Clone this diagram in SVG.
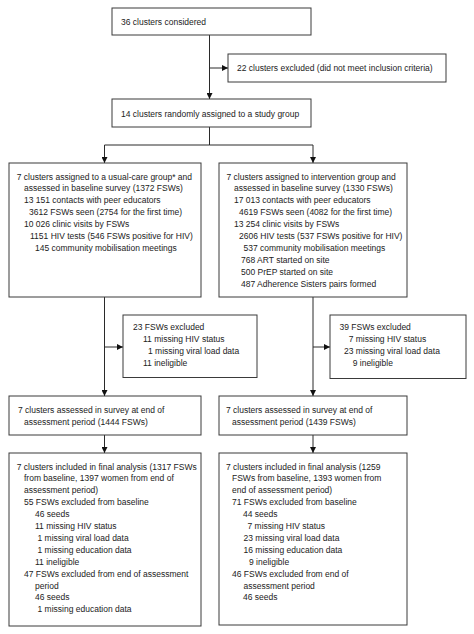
<svg xmlns="http://www.w3.org/2000/svg" width="474" height="634" viewBox="0 0 474 634">
<style>
.box{fill:#fff;stroke:#3a3a3a;stroke-width:1}
.t{font-family:"Liberation Sans",Arial,sans-serif;font-size:8.5px;fill:#222}
.c{fill:none;stroke:#2a2a2a;stroke-width:1}
</style>
<defs>
<marker id="ah" viewBox="0 0 10 10" refX="10" refY="5" markerWidth="7" markerHeight="6" orient="auto" markerUnits="userSpaceOnUse">
<path d="M0,0 L10,5 L0,10 z" fill="#111"/>
</marker>
</defs>
<rect width="474" height="634" fill="#fff"/>
<g id="connectors">
<line class="c" x1="209.5" y1="35" x2="209.5" y2="99" marker-end="url(#ah)"/>
<line class="c" x1="209.5" y1="68" x2="228" y2="68" marker-end="url(#ah)"/>
<polyline class="c" points="209.5,127 209.5,145 104.5,145 104.5,163" marker-end="url(#ah)"/>
<polyline class="c" points="209.5,145 313,145 313,163" marker-end="url(#ah)"/>
<line class="c" x1="104.5" y1="297" x2="104.5" y2="396" marker-end="url(#ah)"/>
<line class="c" x1="104.5" y1="347" x2="123" y2="347" marker-end="url(#ah)"/>
<line class="c" x1="313" y1="297" x2="313" y2="396" marker-end="url(#ah)"/>
<line class="c" x1="313" y1="347" x2="330" y2="347" marker-end="url(#ah)"/>
<line class="c" x1="104.5" y1="435" x2="104.5" y2="453" marker-end="url(#ah)"/>
<line class="c" x1="313" y1="435" x2="313" y2="453" marker-end="url(#ah)"/>
</g>
<g id="considered">
<rect class="box" x="112" y="8" width="199" height="27"/>
<text class="t" x="121" y="24.5">36 clusters considered</text>
</g>
<g id="excluded-clusters">
<rect class="box" x="228" y="54" width="218" height="28"/>
<text class="t" x="237" y="70.5">22 clusters excluded (did not meet inclusion criteria)</text>
</g>
<g id="randomised">
<rect class="box" x="112" y="99" width="199" height="28"/>
<text class="t" x="121" y="116.5">14 clusters randomly assigned to a study group</text>
</g>
<g id="usual-care-baseline">
<rect class="box" x="9" y="163" width="192" height="134"/>
<text class="t" x="16.7" y="179.5">7 clusters assigned to a usual-care group* and</text>
<text class="t" x="24" y="191.4">assessed in baseline survey (1372 FSWs)</text>
<text class="t" x="24" y="203.3">13 151 contacts with peer educators</text>
<text class="t" x="29" y="215.2">3612 FSWs seen (2754 for the first time)</text>
<text class="t" x="24" y="227.1">10 026 clinic visits by FSWs</text>
<text class="t" x="30" y="239">1151 HIV tests (546 FSWs positive for HIV)</text>
<text class="t" x="35" y="250.9">145 community mobilisation meetings</text>
</g>
<g id="intervention-baseline">
<rect class="box" x="219" y="163" width="188" height="134"/>
<text class="t" x="226.5" y="179.5">7 clusters assigned to intervention group and</text>
<text class="t" x="234" y="191.4">assessed in baseline survey (1330 FSWs)</text>
<text class="t" x="234" y="203.3">17 013 contacts with peer educators</text>
<text class="t" x="239" y="215.2">4619 FSWs seen (4082 for the first time)</text>
<text class="t" x="234" y="227.1">13 254 clinic visits by FSWs</text>
<text class="t" x="239" y="239">2606 HIV tests (537 FSWs positive for HIV)</text>
<text class="t" x="243.5" y="250.9">537 community mobilisation meetings</text>
<text class="t" x="241" y="262.8">768 ART started on site</text>
<text class="t" x="241" y="274.7">500 PrEP started on site</text>
<text class="t" x="241" y="286.6">487 Adherence Sisters pairs formed</text>
</g>
<g id="usual-care-excluded">
<rect class="box" x="123" y="315" width="134" height="62.5"/>
<text class="t" x="133" y="329.5">23 FSWs excluded</text>
<text class="t" x="143" y="341.8">11 missing HIV status</text>
<text class="t" x="148" y="354.1">1 missing viral load data</text>
<text class="t" x="143" y="366.4">11 ineligible</text>
</g>
<g id="intervention-excluded">
<rect class="box" x="330" y="315" width="136" height="63.5"/>
<text class="t" x="339.5" y="329.5">39 FSWs excluded</text>
<text class="t" x="348.7" y="341.8">7 missing HIV status</text>
<text class="t" x="344" y="354.1">23 missing viral load data</text>
<text class="t" x="352.7" y="366.4">9 ineligible</text>
</g>
<g id="usual-care-endline">
<rect class="box" x="9" y="396" width="192" height="39"/>
<text class="t" x="18" y="413">7 clusters assessed in survey at end of</text>
<text class="t" x="24" y="425">assessment period (1444 FSWs)</text>
</g>
<g id="intervention-endline">
<rect class="box" x="219" y="396" width="188" height="39"/>
<text class="t" x="226" y="413">7 clusters assessed in survey at end of</text>
<text class="t" x="232" y="425">assessment period (1439 FSWs)</text>
</g>
<g id="usual-care-analysis">
<rect class="box" x="9" y="453" width="192" height="173"/>
<text class="t" x="16.7" y="469.5">7 clusters included in final analysis (1317 FSWs</text>
<text class="t" x="24" y="481.4">from baseline, 1397 women from end of</text>
<text class="t" x="24" y="493.3">assessment period)</text>
<text class="t" x="24" y="505.2">55 FSWs excluded from baseline</text>
<text class="t" x="35" y="517.1">46 seeds</text>
<text class="t" x="35" y="529">11 missing HIV status</text>
<text class="t" x="37.5" y="540.9">1 missing viral load data</text>
<text class="t" x="37.5" y="552.8">1 missing education data</text>
<text class="t" x="35" y="564.7">11 ineligible</text>
<text class="t" x="24" y="576.6">47 FSWs excluded from end of assessment</text>
<text class="t" x="35" y="588.5">period</text>
<text class="t" x="35" y="600.4">46 seeds</text>
<text class="t" x="37.5" y="612.3">1 missing education data</text>
</g>
<g id="intervention-analysis">
<rect class="box" x="219" y="453" width="188" height="172"/>
<text class="t" x="226" y="469.5">7 clusters included in final analysis (1259</text>
<text class="t" x="232" y="481.4">FSWs from baseline, 1393 women from</text>
<text class="t" x="232" y="493.3">end of assessment period)</text>
<text class="t" x="232" y="505.2">71 FSWs excluded from baseline</text>
<text class="t" x="243" y="517.1">44 seeds</text>
<text class="t" x="247.5" y="529">7 missing HIV status</text>
<text class="t" x="243.5" y="540.9">23 missing viral load data</text>
<text class="t" x="243.5" y="552.8">16 missing education data</text>
<text class="t" x="249" y="564.7">9 ineligible</text>
<text class="t" x="232" y="576.6">46 FSWs excluded from end of</text>
<text class="t" x="243.5" y="588.5">assessment period</text>
<text class="t" x="243" y="600.4">46 seeds</text>
</g>
</svg>
